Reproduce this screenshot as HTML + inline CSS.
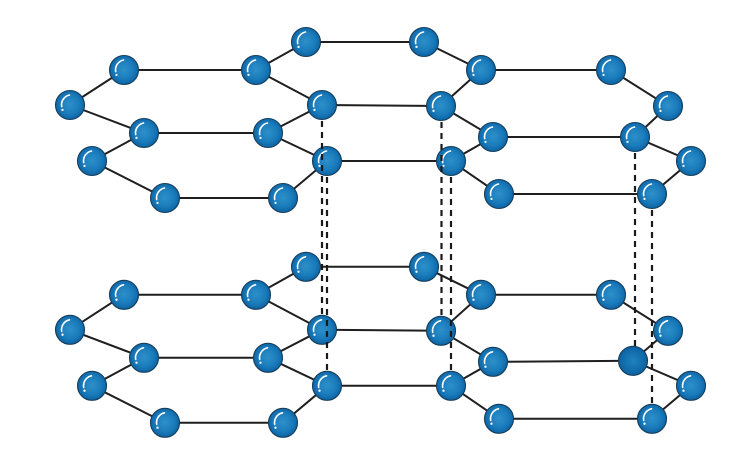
<!DOCTYPE html>
<html><head><meta charset="utf-8"><style>
html,body{margin:0;padding:0;background:#fff;}
svg{display:block;}
</style></head><body>
<svg width="750" height="470" viewBox="0 0 750 470" xmlns="http://www.w3.org/2000/svg">
<defs>
<radialGradient id="g" cx="50%" cy="48%" r="55%">
<stop offset="0" stop-color="#2e90c9"/>
<stop offset="0.6" stop-color="#1a7bbb"/>
<stop offset="1" stop-color="#0a5f9e"/>
</radialGradient>
<radialGradient id="g2" cx="50%" cy="50%" r="55%">
<stop offset="0" stop-color="#1f82c0"/>
<stop offset="1" stop-color="#0a5f9e"/>
</radialGradient>
<g id="atom">
<circle r="14.5" fill="url(#g)" stroke="#163e5c" stroke-width="1.1"/>
<path d="M -8.3 1.6 A 10 10 0 0 1 -0.5 -10" fill="none" stroke="#fff" stroke-width="1.6" stroke-linecap="round"/>
<circle cx="-7.5" cy="4.9" r="1.15" fill="#fff"/>
</g>
</defs>
<g id="bonds" stroke="#1f1f1f" stroke-width="2" fill="none">
<path d="M70 105L124 70L256 70L322 105 M70 105L144 133L268 133L322 105 M256 70L306 42 M144 133L92 161L165 198L283 198L327 161L268 133 M306 42L424 42 M322 105L441 106 M327 161L451 161 M424 42L481 70L441 106L493 137L451 161L499 194L652 194L691 161L635 137L668 106L611 70L481 70 M493 137L635 137"/>
<g transform="translate(0,224.8)">
<path d="M70 105L124 70L256 70L322 105 M70 105L144 133L268 133L322 105 M256 70L306 42 M144 133L92 161L165 198L283 198L327 161L268 133 M306 42L424 42 M322 105L441 106 M327 161L451 161 M424 42L481 70L441 106L493 137L451 161L499 194L652 194L691 161L633 136L668 106L611 70L481 70 M493 137L633 136"/>
</g>
</g>
<g id="top">
<use href="#atom" x="70" y="105"/>
<use href="#atom" x="124" y="70"/>
<use href="#atom" x="144" y="133"/>
<use href="#atom" x="92" y="161"/>
<use href="#atom" x="165" y="198"/>
<use href="#atom" x="256" y="70"/>
<use href="#atom" x="306" y="42"/>
<use href="#atom" x="322" y="105"/>
<use href="#atom" x="268" y="133"/>
<use href="#atom" x="327" y="161"/>
<use href="#atom" x="283" y="198"/>
<use href="#atom" x="424" y="42"/>
<use href="#atom" x="481" y="70"/>
<use href="#atom" x="441" y="106"/>
<use href="#atom" x="493" y="137"/>
<use href="#atom" x="451" y="161"/>
<use href="#atom" x="499" y="194"/>
<use href="#atom" x="611" y="70"/>
<use href="#atom" x="668" y="106"/>
<use href="#atom" x="635" y="137"/>
<use href="#atom" x="691" y="161"/>
<use href="#atom" x="652" y="194"/>
</g>
<g transform="translate(0,224.8)">
<use href="#atom" x="70" y="105"/>
<use href="#atom" x="124" y="70"/>
<use href="#atom" x="144" y="133"/>
<use href="#atom" x="92" y="161"/>
<use href="#atom" x="165" y="198"/>
<use href="#atom" x="256" y="70"/>
<use href="#atom" x="306" y="42"/>
<use href="#atom" x="322" y="105"/>
<use href="#atom" x="268" y="133"/>
<use href="#atom" x="327" y="161"/>
<use href="#atom" x="283" y="198"/>
<use href="#atom" x="424" y="42"/>
<use href="#atom" x="481" y="70"/>
<use href="#atom" x="441" y="106"/>
<use href="#atom" x="493" y="137"/>
<use href="#atom" x="451" y="161"/>
<use href="#atom" x="499" y="194"/>
<use href="#atom" x="611" y="70"/>
<use href="#atom" x="668" y="106"/>
<circle cx="633" cy="136" r="14.5" fill="url(#g2)" stroke="#163e5c" stroke-width="1.1"/>
<use href="#atom" x="691" y="161"/>
<use href="#atom" x="652" y="194"/>
</g>
<g stroke="#1a1a1a" stroke-width="2.2" stroke-dasharray="6 5" fill="none">
<line x1="322" y1="121" x2="322" y2="315"/>
<line x1="327" y1="177" x2="327" y2="371"/>
<line x1="441.5" y1="122" x2="441.5" y2="315"/>
<line x1="451" y1="177" x2="451" y2="371"/>
<line x1="635" y1="153" x2="635" y2="346"/>
<line x1="652" y1="210" x2="652" y2="404"/>
</g>
</svg>
</body></html>
